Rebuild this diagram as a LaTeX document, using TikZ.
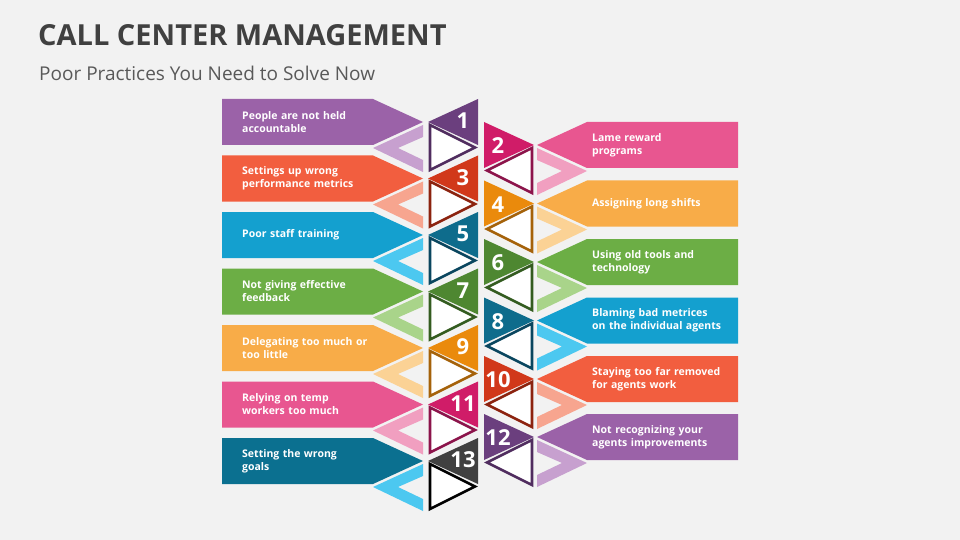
\documentclass[tikz,border=0pt]{standalone}
\usepackage{fontspec}
\setmainfont{Open Sans}
\definecolor{bg}{HTML}{F2F2F2}
\definecolor{puB}{RGB}{155,98,168}\definecolor{puD}{RGB}{107,63,126}\definecolor{puL}{RGB}{199,160,207}\definecolor{puO}{RGB}{80,45,95}
\definecolor{piB}{RGB}{232,86,144}\definecolor{piD}{RGB}{208,28,104}\definecolor{piL}{RGB}{241,159,192}\definecolor{piO}{RGB}{140,20,75}
\definecolor{reB}{RGB}{242,94,63}\definecolor{reD}{RGB}{209,56,26}\definecolor{reL}{RGB}{247,165,143}\definecolor{reO}{RGB}{140,35,15}
\definecolor{orB}{RGB}{248,172,72}\definecolor{orD}{RGB}{234,138,12}\definecolor{orL}{RGB}{251,210,149}\definecolor{orO}{RGB}{165,98,10}
\definecolor{blB}{RGB}{20,160,207}\definecolor{blD}{RGB}{14,108,140}\definecolor{blL}{RGB}{76,200,240}\definecolor{blO}{RGB}{10,70,95}
\definecolor{grB}{RGB}{108,174,69}\definecolor{grD}{RGB}{78,135,49}\definecolor{grL}{RGB}{169,212,138}\definecolor{grO}{RGB}{52,92,32}
\definecolor{tlB}{RGB}{11,112,144}\definecolor{tlD}{RGB}{64,64,64}
\begin{document}
\begin{tikzpicture}[x=1pt,y=-1pt,
  lbl/.style={anchor=west,text=white,font=\fontsize{10.5}{13}\selectfont\bfseries,align=left,text width=150pt,inner sep=0pt},
  num/.style={text=white,font=\fontsize{22}{22}\selectfont\bfseries,inner sep=0pt},
  outl/.style={fill=white,line width=2.6pt,line join=miter}]
\fill[bg] (0,0) rectangle (960,540);
\useasboundingbox (0,0) rectangle (960,540);
\node[anchor=west,inner sep=0pt,text=black!75,font=\fontsize{29}{30}\selectfont\bfseries] (title) at (38,35) {CALL CENTER MANAGEMENT};
\node[anchor=west,inner sep=0pt,text=black!65,font=\fontsize{19}{20}\selectfont] (sub) at (39,73) {Poor Practices You Need to Solve Now};
\newcommand\leftitem[7]{%
  \fill[#2] (222,#1)--(373,#1)--(423,#1+23)--(373,#1+46)--(222,#1+46)--cycle;
  \node[lbl] (t#6) at (242,#1+23) {#7};
  \fill[#4] (373,#1+49)--(423,#1+26)--(423,#1+38)--(398,#1+49)--(423,#1+61)--(423,#1+73)--cycle;
  \fill[#3] (478,#1)--(478,#1+46)--(428,#1+23)--cycle;
  \node[num] (n#6) at (463,#1+22) {#6};
  \draw[outl,draw=#5] (430,#1+26)--(430,#1+71)--(475,#1+48.5)--cycle;
}
\newcommand\rightitem[7]{%
  \fill[#2] (738,#1)--(587,#1)--(537,#1+23)--(587,#1+46)--(738,#1+46)--cycle;
  \node[lbl] (t#6) at (592,#1+23) {#7};
  \fill[#4] (587,#1+49)--(537,#1+26)--(537,#1+38)--(562,#1+49)--(537,#1+61)--(537,#1+73)--cycle;
  \fill[#3] (484,#1)--(484,#1+46)--(534,#1+23)--cycle;
  \node[num] (n#6) at (498,#1+24) {#6};
  \draw[outl,draw=#5] (532,#1+26)--(532,#1+71)--(487,#1+48.5)--cycle;
}
\leftitem{99}{puB}{puD}{puL}{puO}{1}{People are not held\\accountable}
\rightitem{122}{piB}{piD}{piL}{piO}{2}{Lame reward\\programs}
\leftitem{155.5}{reB}{reD}{reL}{reO}{3}{Settings up wrong\\performance metrics}
\rightitem{180.5}{orB}{orD}{orL}{orO}{4}{Assigning long shifts}
\leftitem{212}{blB}{blD}{blL}{blO}{5}{Poor staff training}
\rightitem{239}{grB}{grD}{grL}{grO}{6}{Using old tools and\\technology}
\leftitem{268.5}{grB}{grD}{grL}{grO}{7}{Not giving effective\\feedback}
\rightitem{297.5}{blB}{blD}{blL}{blO}{8}{Blaming bad metrices\\on the individual agents}
\leftitem{325}{orB}{orD}{orL}{orO}{9}{Delegating too much or\\too little}
\rightitem{356}{reB}{reD}{reL}{reO}{10}{Staying too far removed\\for agents work}
\leftitem{381.5}{piB}{piD}{piL}{piO}{11}{Relying on temp\\workers too much}
\rightitem{414}{puB}{puD}{puL}{puO}{12}{Not recognizing your\\agents improvements}
\leftitem{438}{tlB}{tlD}{blL}{black}{13}{Setting the wrong\\goals}
\end{tikzpicture}
\end{document}
